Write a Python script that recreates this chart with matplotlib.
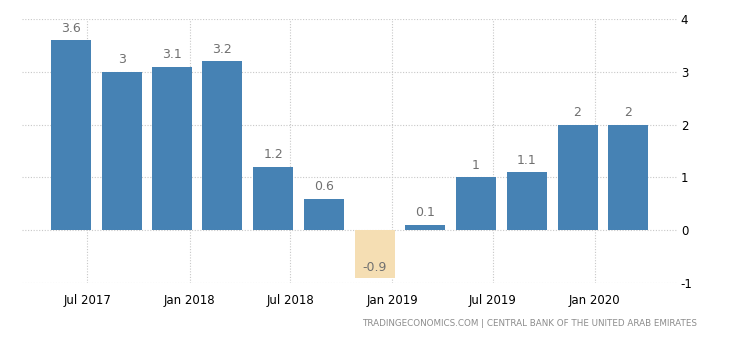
import matplotlib
matplotlib.use("Agg")
import matplotlib.pyplot as plt
import matplotlib.dates as mdates
import numpy as np

# quarterly values (plotted around each quarter's last month)
dates = ["2017-06-01", "2017-09-01", "2017-12-01", "2018-03-01",
         "2018-06-01", "2018-09-01", "2018-12-01", "2019-03-01",
         "2019-06-01", "2019-09-01", "2019-12-01", "2020-03-01"]
values = [3.6, 3.0, 3.1, 3.2, 1.2, 0.6, -0.9, 0.1, 1.0, 1.1, 2.0, 2.0]
tick_dates = ["2017-07-01", "2018-01-01", "2018-07-01",
              "2019-01-01", "2019-07-01", "2020-01-01"]
tick_labels = ["Jul 2017", "Jan 2018", "Jul 2018", "Jan 2019", "Jul 2019", "Jan 2020"]
yticks = [-1, 0, 1, 2, 3, 4]

plt.rcParams['font.family'] = ['DejaVu Sans']
plt.rcParams['axes.unicode_minus'] = False

x = mdates.date2num(np.array(dates, dtype="datetime64[D]"))
xt = mdates.date2num(np.array(tick_dates, dtype="datetime64[D]"))
colors = ["#4682b4" if v >= 0 else "#f5deb3" for v in values]

fig = plt.figure(figsize=(7.3, 3.4), dpi=100)
ax = fig.add_axes([22 / 730, 57 / 340, 656 / 730, 264 / 340])

bars = ax.bar(x, values, width=72, color=colors, zorder=2)

# value labels
for b, v in zip(bars, values):
    txt = f"{v:g}"
    cx = b.get_x() + b.get_width() / 2
    off = 4 if v >= 0 else 3
    ax.annotate(txt, (cx, v), xytext=(0, off), textcoords="offset points",
                ha="center", va="bottom", fontsize=9, color="#707070")

ax.set_xlim(mdates.date2num(np.datetime64("2017-03-05")),
            mdates.date2num(np.datetime64("2020-05-30")))
ax.set_ylim(-1, 4)
ax.set_xticks(xt)
ax.set_xticklabels(tick_labels)
ax.set_yticks(yticks)
ax.yaxis.tick_right()

ax.grid(True, color="#c8c8c8", linestyle=(0, (1, 1.5)), linewidth=0.8, zorder=0)
for s in ax.spines.values():
    s.set_visible(False)
ax.tick_params(axis="both", length=0, labelsize=8.5, colors="black")
ax.tick_params(axis="x", pad=8)
ax.tick_params(axis="y", pad=2)

fig.text(697 / 730, 1 - 324 / 340,
         "TRADINGECONOMICS.COM | CENTRAL BANK OF THE UNITED ARAB EMIRATES",
         ha="right", va="center", fontsize=6.3, color="#8c8c8c")

fig.savefig("out.png", dpi=100)
